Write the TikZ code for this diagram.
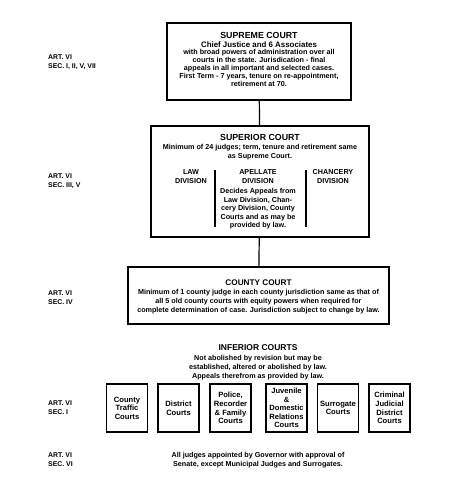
\documentclass[tikz,border=0pt]{standalone}
\usepackage{fontspec}
\setmainfont{Liberation Sans}
\usetikzlibrary{positioning}
\tikzstyle{court}=[rectangle,draw=black,line width=1.6pt,inner sep=0pt]
\tikzstyle{lower}=[rectangle,draw=black,line width=1.6pt,inner sep=0pt,minimum width=41pt,minimum height=48pt,align=center,font=\fontsize{7.6}{8.6}\selectfont\bfseries]
\tikzstyle{txt}=[align=center,inner sep=0pt,font=\fontsize{7.2}{9}\selectfont\bfseries]
\tikzstyle{head}=[align=center,inner sep=0pt,font=\fontsize{8.8}{9}\selectfont\bfseries]
\tikzstyle{art}=[align=left,anchor=north west,inner sep=0pt,font=\fontsize{6.9}{9}\selectfont\bfseries]
\tikzstyle{link}=[line width=1.2pt]
\tikzset{every picture/.style={
    x=1pt,y=-1pt
  }
}
\begin{document}
\begin{tikzpicture}
        \useasboundingbox (0,0) rectangle (474,492);
        % supreme court
        \node[court,minimum width=184pt,minimum height=77pt] at (259,61.5) (sup) {};
        \node[head] at (259,35.5) (suph) {SUPREME COURT};
        \node[head,font=\fontsize{7.9}{9}\selectfont\bfseries] at (259,44.5) (supc) {Chief Justice and 6 Associates};
        \node[txt,anchor=north,font=\fontsize{7.2}{7.8}\selectfont\bfseries] at (259,49.5) (supt) {with broad powers of administration over all\\
          courts in the state. Jurisdication - final\\
          appeals in all important and selected cases.\\
          First Term - 7 years, tenure on re-appointment,\\
          retirement at 70.};
        % superior court
        \node[court,minimum width=218pt,minimum height=111pt] at (260,181.5) (supr) {};
        \node[head] at (260,137) (suprh) {SUPERIOR COURT};
        \node[txt,anchor=north] at (260,144.5) (suprt) {Minimum of 24 judges; term, tenure and retirement same\\
          as Supreme Court.};
        \node[txt,anchor=north,font=\fontsize{7.2}{9.4}\selectfont\bfseries] at (191,169) (law) {LAW\\DIVISION};
        \node[txt,anchor=north,font=\fontsize{7.2}{9.4}\selectfont\bfseries] at (258,169) (apel) {APELLATE\\DIVISION};
        \node[txt,anchor=north,font=\fontsize{7.2}{8.4}\selectfont\bfseries] at (258,188.5) (apelt) {Decides Appeals from\\
          Law Division, Chan-\\
          cery Division, County\\
          Courts and as may be\\
          provided by law.};
        \node[txt,anchor=north,font=\fontsize{7.2}{9.4}\selectfont\bfseries] at (333,169) (chan) {CHANCERY\\DIVISION};
        \draw[link] (215,170) -- (215,227);
        \draw[link] (306,170) -- (306,227);
        % county court
        \node[court,minimum width=261pt,minimum height=57pt] at (258.5,295.5) (cty) {};
        \node[head,font=\fontsize{8.2}{9}\selectfont\bfseries] at (258.5,282.5) (ctyh) {COUNTY COURT};
        \node[txt,anchor=north] at (258.5,289) (ctyt) {Minimum of 1 county judge in each county jurisdiction same as that of\\
          all 5 old county courts with equity powers when required for\\
          complete determination of case. Jurisdiction subject to change by law.};
        % inferior courts
        \node[head,font=\fontsize{8.5}{9}\selectfont\bfseries] at (258,347.5) (infh) {INFERIOR COURTS};
        \node[txt,anchor=north,font=\fontsize{7.2}{8.6}\selectfont\bfseries] at (258,355.5) (inft) {Not abolished by revision but may be\\
          established, altered or abolished by law.\\
          Appeals therefrom as provided by law.};
        \node[lower] at (127,408) (l1) {County\\Traffic\\Courts};
        \node[lower] at (178.5,408) (l2) {District\\Courts};
        \node[lower] at (230.5,408) (l3) {Police,\\Recorder\\\& Family\\Courts};
        \node[lower] at (286.5,408) (l4) {Juvenile\\\&\\Domestic\\Relations\\Courts};
        \node[lower] at (338,408) (l5) {Surrogate\\Courts};
        \node[lower] at (389.5,408) (l6) {Criminal\\Judicial\\District\\Courts};
        % appointment note
        \node[txt,anchor=north] at (258,452.5) (note) {All judges appointed by Governor with approval of\\
          Senate, except Municipal Judges and Surrogates.};
        % articles
        \node[art] at (48,55) (a1) {ART. VI\\SEC. I, II, V, VII};
        \node[art] at (48,174) (a2) {ART. VI\\SEC. III, V};
        \node[art] at (48,291) (a3) {ART. VI\\SEC. IV};
        \node[art] at (48,401) (a4) {ART. VI\\SEC. I};
        \node[art] at (48,453) (a5) {ART. VI\\SEC. VI};
        \draw[link] (sup) -- (supr);
        \draw[link] (supr) -- (cty);
      \end{tikzpicture}
\end{document}
